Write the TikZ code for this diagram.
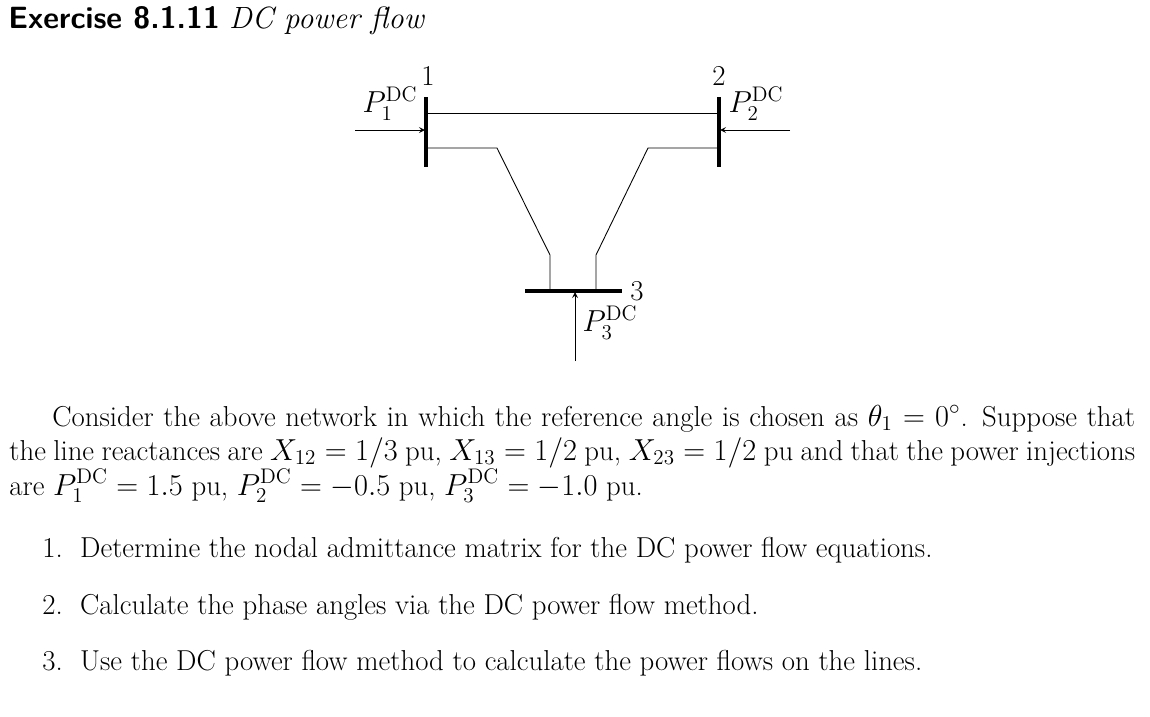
\documentclass[tikz,border=0pt]{standalone}
\usepackage{amsmath}
\begin{document}
\begin{tikzpicture}[x=0.02cm,y=-0.02cm,
  bus/.style={line width=2.2pt},
  ln/.style={line width=0.5pt},
  inj/.style={line width=0.5pt,-stealth},
  txt/.style={anchor=base west,inner sep=0,font=\fontsize{16.4}{20}\selectfont}]
\useasboundingbox (0,0) rectangle (1150,717);
\node[anchor=base west,inner sep=0] (title) at (8,28) {\fontsize{17.5}{20}\selectfont\textsf{\textbf{Exercise 8.1.11}}\ \textit{DC power flow}};
% buses
\coordinate (b1t) at (426,97); \coordinate (b1b) at (426,167);
\coordinate (b2t) at (719,97); \coordinate (b2b) at (719,167);
\coordinate (b3l) at (525,291); \coordinate (b3r) at (622,291);
\draw[bus] (b1t) -- (b1b);
\draw[bus] (b2t) -- (b2b);
\draw[bus] (b3l) -- (b3r);
\draw[ln] (426,113) -- (719,113);
\draw[ln] (426,148) -- (497,148) -- (550,255) -- (550,291);
\draw[ln] (719,148) -- (648,148) -- (596,255) -- (596,291);
\coordinate (i1) at (355,130); \coordinate (e1) at (425,130);
\coordinate (i2) at (790,130); \coordinate (e2) at (720,130);
\coordinate (i3) at (575,361); \coordinate (e3) at (575,292);
\draw[inj] (i1) -- (e1);
\draw[inj] (i2) -- (e2);
\draw[inj] (i3) -- (e3);
\node (n1) at (428,76) {\fontsize{16.4}{20}\selectfont 1};
\node (n2) at (719,76) {\fontsize{16.4}{20}\selectfont 2};
\node (n3) at (637,291) {\fontsize{16.4}{20}\selectfont 3};
\node (p1) at (390,104) {\fontsize{16.4}{20}\selectfont $P_1^{\mathrm{DC}}$};
\node (p2) at (756,104) {\fontsize{16.4}{20}\selectfont $P_2^{\mathrm{DC}}$};
\node (p3) at (610,323) {\fontsize{16.4}{20}\selectfont $P_3^{\mathrm{DC}}$};
% paragraph
\node[txt] (l1) at (52,426) {\hbox to 21.66cm{Consider the above network in which the reference angle is chosen as $\theta_1=0^\circ$. Suppose that}};
\node[txt] (l2) at (9,460) {\hbox to 22.52cm{the line reactances are $X_{12}=1/3$ pu, $X_{13}=1/2$ pu, $X_{23}=1/2$ pu and that the power injections}};
\node[txt] (l3) at (9,495) {are $P_1^{\mathrm{DC}}=1.5$ pu, $P_2^{\mathrm{DC}}=-0.5$ pu, $P_3^{\mathrm{DC}}=-1.0$ pu.};
\node[txt] (a1) at (42,557) {1.\ \ Determine the nodal admittance matrix for the DC power flow equations.};
\node[txt] (a2) at (42,614) {2.\ \ Calculate the phase angles via the DC power flow method.};
\node[txt] (a3) at (42,670) {3.\ \ Use the DC power flow method to calculate the power flows on the lines.};
\end{tikzpicture}
\end{document}
